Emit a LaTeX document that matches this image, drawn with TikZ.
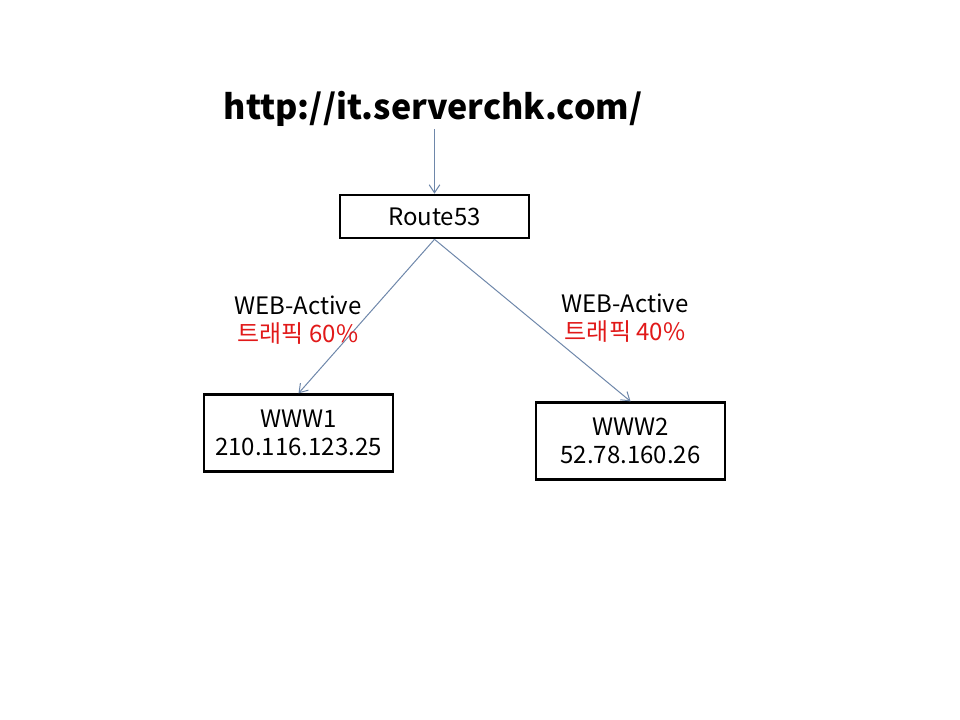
\documentclass[tikz,border=0pt]{standalone}
\usepackage{fontspec}
\setmainfont{Noto Sans CJK KR}
\usetikzlibrary{positioning,arrows.meta}
\definecolor{linkblue}{RGB}{110,135,170}
\definecolor{pctred}{RGB}{225,25,25}

\begin{document}
\begin{tikzpicture}[
      x=0.75pt, y=-0.75pt,
      >={Straight Barb[length=6pt,width=8pt]}
    ]

    \tikzstyle{box} = [rectangle, draw=black, line width=2pt, minimum width=141.75pt, text centered, font=\fontsize{18pt}{21pt}\selectfont, align=center]

    \tikzstyle{arrow} = [->, draw=linkblue, line width=0.75pt]

    \tikzstyle{weight} = [align=center, font=\fontsize{18pt}{21pt}\selectfont]

    \useasboundingbox (0,0) rectangle (960,720);

    \node [box, minimum height=32.25pt] (route) at (434.5,216.5) {Route53};

    \node [font=\bfseries\fontsize{25.5pt}{28pt}\selectfont, inner sep=2pt] (url) at (433,108.5) {http://it.serverchk.com/};

    \node [box, minimum height=57.75pt] (www1) [node distance=115.5pt, below=of route, xshift=-102pt] {WWW1\\210.116.123.25};
    \node [box, minimum height=57.75pt] (www2) [node distance=121.5pt, below=of route, xshift=147pt] {WWW2\\52.78.160.26};

    \draw [arrow] (route.north |- url.south) -- (route.north);

    \draw [arrow] (route.south) -- (www1.north) node[weight, midway, left, yshift=-3pt] (left) {WEB-Active\\\textcolor{pctred}{트래픽 60\%}};
    \draw [arrow] (route.south) -- (www2.north) node[weight, midway, right, xshift=18pt, yshift=1.5pt] (right) {WEB-Active\\\textcolor{pctred}{트래픽 40\%}};

\end{tikzpicture}
\end{document}
